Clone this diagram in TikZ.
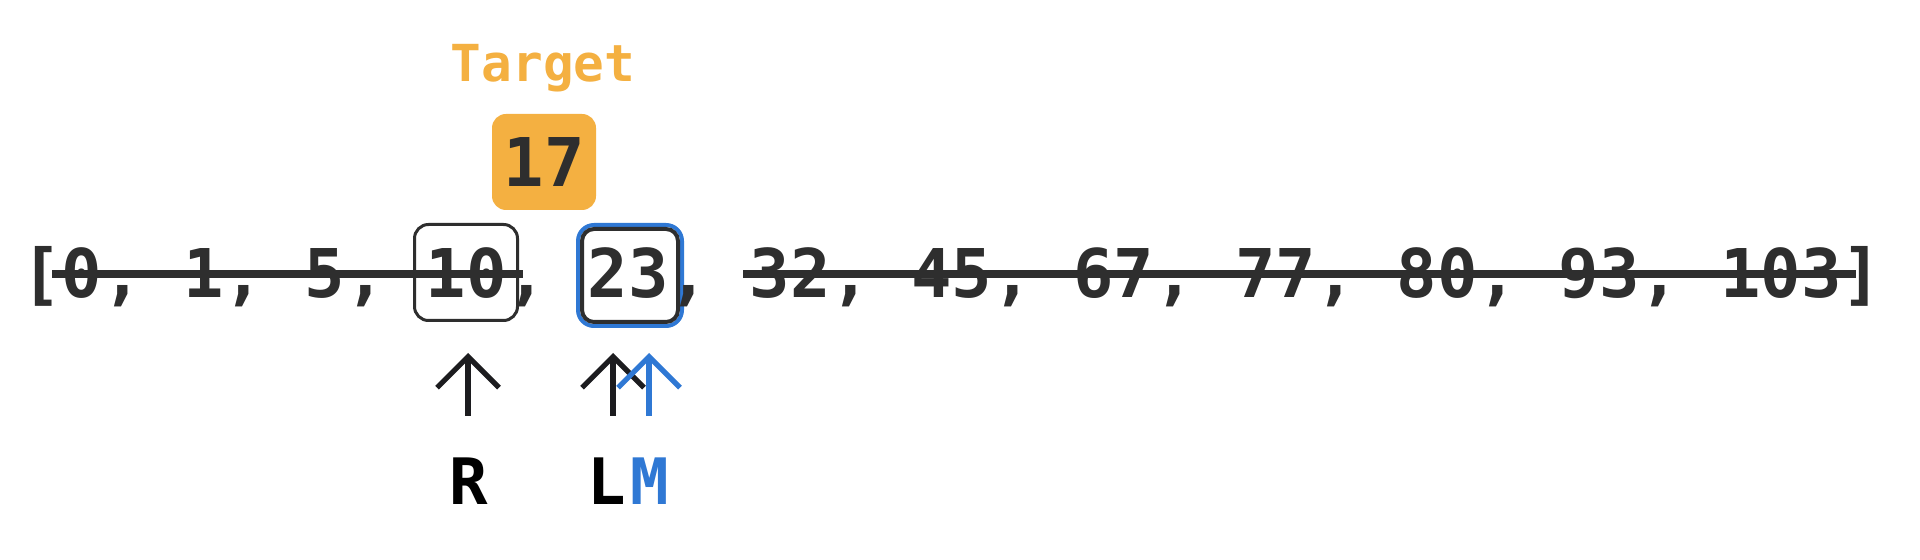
\documentclass[tikz,border=0pt]{standalone}
\usepackage{fontspec}
\setmonofont{DejaVu Sans Mono}
\usetikzlibrary{arrows.meta}
\definecolor{ink}{HTML}{2E2E2E}
\definecolor{arrowink}{HTML}{1C1C1F}
\definecolor{accent}{HTML}{2F78D4}
\definecolor{targetc}{HTML}{F4B041}
\tikzset{
  listtext/.style={anchor=base west, inner sep=0pt, text=ink, font=\ttfamily\bfseries\fontsize{33.6}{40}\selectfont},
  strike/.style={draw=ink, line width=3.75pt},
  plainbox/.style={draw=ink, line width=1.5pt, rounded corners=7pt, inner sep=0pt},
  curbox/.style={draw=ink, line width=2pt, rounded corners=6pt, inner sep=0pt},
  curring/.style={draw=accent, line width=2pt, rounded corners=8pt, inner sep=0pt},
  ptr/.style={line width=2.6pt, -{Straight Barb[length=15.5pt,width=31pt]}},
  lbl/.style={anchor=base, inner sep=0pt, font=\ttfamily\bfseries\fontsize{32}{38}\selectfont},
}
\begin{document}
\begin{tikzpicture}[x=0.5pt, y=-0.5pt]
\useasboundingbox[fill=white] (0,0) rectangle (1920,560);

% target
\node[anchor=base, inner sep=0pt, text=targetc, font=\ttfamily\bfseries\fontsize{25.5}{30}\selectfont] (title) at (543,82) {Target};
\node[fill=targetc, rounded corners=7pt, minimum width=52pt, minimum height=48pt, inner sep=0pt,
      text=ink, font=\ttfamily\bfseries\fontsize{33.6}{40}\selectfont] (tbox) at (544,162) {17};

% boxes
\node[plainbox, minimum width=51.5pt, minimum height=48pt] (rbox) at (466,272.5) {};
\node[curring, minimum width=52pt, minimum height=50.5pt] (mring) at (630,275.5) {};
\node[curbox, minimum width=48pt, minimum height=46.5pt] (mbox) at (630,275.5) {};

% list
\node[listtext] (arr) at (21,298) {[0, 1, 5, 10, 23, 32, 45, 67, 77, 80, 93, 103]};

% strike-through
\coordinate (s1a) at (52,274);
\coordinate (s1b) at (523,274);
\coordinate (s2a) at (743,274);
\coordinate (s2b) at (1856,274);
\draw[strike] (s1a) -- (s1b);
\draw[strike] (s2a) -- (s2b);

% pointers
\coordinate (rtail) at (468,416);
\coordinate (rtip) at (468,353);
\coordinate (ltail) at (613,416);
\coordinate (ltip) at (613,353);
\coordinate (mtail) at (649,416);
\coordinate (mtip) at (649,353);
\draw[ptr, draw=arrowink] (rtail) -- (rtip);
\draw[ptr, draw=arrowink] (ltail) -- (ltip);
\draw[ptr, draw=accent] (mtail) -- (mtip);

% labels
\node[lbl, text=black] (R) at (469,504) {R};
\node[lbl, text=black] (L) at (607,504) {L};
\node[lbl, text=accent] (M) at (650,504) {M};
\end{tikzpicture}
\end{document}
